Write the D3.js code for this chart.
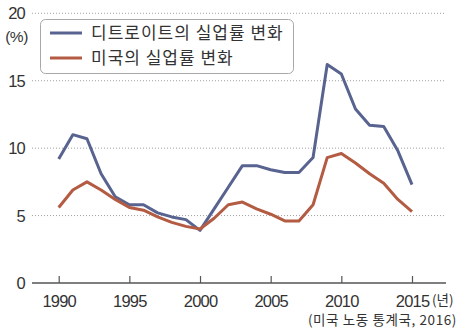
<!DOCTYPE html>
<html><head><meta charset="utf-8">
<script src="https://cdn.jsdelivr.net/npm/d3@7"></script>
<style>body{margin:0;background:#fff}svg{display:block}</style>
</head><body><svg id="c" width="474" height="333"></svg>
<script>
const years = d3.range(1990, 2016);
const detroit = [9.2,11.0,10.7,8.1,6.4,5.8,5.8,5.2,4.9,4.7,3.9,5.5,7.1,8.7,8.7,8.4,8.2,8.2,9.3,16.2,15.5,12.9,11.7,11.6,9.8,7.3];
const usa = [5.6,6.9,7.5,6.9,6.2,5.6,5.4,4.9,4.5,4.2,4.0,4.8,5.8,6.0,5.5,5.1,4.6,4.6,5.8,9.3,9.6,8.9,8.1,7.4,6.2,5.3];
const seriesNames = ["디트로이트의 실업률 변화","미국의 실업률 변화"];
const colors = ["#58638f","#b35b43"];
const yTicks = [0,5,10,15,20];
const xTicks = [1990,1995,2000,2005,2010,2015];
const unitY = "(%)", unitX = "(년)", source = "(미국 노동 통계국, 2016)";

const svg = d3.select("#c");
const font = "'Liberation Sans', Arial, sans-serif";
const kfont = "'Noto Sans CJK KR', sans-serif";
const x = d3.scaleLinear().domain([1990,2015]).range([58.7,412]);
const y = d3.scaleLinear().domain([0,20]).range([283,13.3]);
const x0 = 32, x1 = 446;

// gridlines
svg.append("g").selectAll("line").data(yTicks.filter(d=>d>0)).join("line")
  .attr("x1",x0).attr("x2",x1).attr("y1",d=>y(d)).attr("y2",d=>y(d))
  .attr("stroke","#a0a0a0").attr("stroke-width",1).attr("stroke-dasharray","1,2");

// y labels
svg.append("g").selectAll("text").data(yTicks).join("text")
  .attr("x",25).attr("y",d=>y(d)).attr("dy","0.36em").attr("text-anchor","end")
  .attr("font-family",font).attr("font-size",16.5).attr("letter-spacing",-0.8).attr("fill","#333")
  .text(d=>d);
svg.append("text").attr("x",16.5).attr("y",36).attr("dy","0.36em").attr("text-anchor","middle")
  .attr("font-family",font).attr("font-size",15.5).attr("letter-spacing",-0.5).attr("fill","#333").text(unitY);

// x axis
const xAxis = d3.axisBottom(x).tickValues(xTicks).tickSize(-7).tickFormat(d=>d);
const gx = svg.append("g").attr("transform",`translate(0,${y(0)})`).call(xAxis);
gx.select(".domain").remove();
gx.append("line").attr("x1",x0).attr("x2",x1).attr("stroke","#555").attr("stroke-width",1.6);
gx.selectAll(".tick line").attr("stroke","#555").attr("stroke-width",1.2);
gx.selectAll(".tick text").attr("y",12).attr("dy","0.71em")
  .attr("font-family",font).attr("font-size",16.5).attr("letter-spacing",-0.8).attr("fill","#333");
gx.append("text").attr("x",x(2015)+20).attr("y",17.5).attr("dy","0.36em").attr("text-anchor","start")
  .attr("font-family",kfont).attr("font-size",13.5).attr("fill","#333").text(unitX);
svg.append("text").attr("x",457).attr("y",320.5).attr("dy","0.36em").attr("text-anchor","end")
  .attr("font-family",kfont).attr("font-size",13.5).attr("letter-spacing",0.6).attr("fill","#333").text(source);

// lines
const line = d3.line().x((d,i)=>x(years[i])).y(d=>y(d));
[detroit, usa].forEach((s,k)=>{
  svg.append("path").attr("d",line(s)).attr("fill","none").attr("stroke",colors[k])
    .attr("stroke-width",3).attr("stroke-linejoin","round");
});

// legend
svg.append("rect").attr("x",40.5).attr("y",19.5).attr("width",253).attr("height",54).attr("rx",5)
  .attr("fill","#fff").attr("stroke","#a8a8a8").attr("stroke-width",1);
seriesNames.forEach((n,k)=>{
  const cy = 33 + k*25;
  svg.append("line").attr("x1",50).attr("x2",82).attr("y1",cy).attr("y2",cy)
    .attr("stroke",colors[k]).attr("stroke-width",3);
  svg.append("text").attr("x",91).attr("y",cy).attr("dy","0.36em")
    .attr("font-family",kfont).attr("font-size",17).attr("letter-spacing",1).attr("fill","#333").text(n);
});
</script></body></html>
